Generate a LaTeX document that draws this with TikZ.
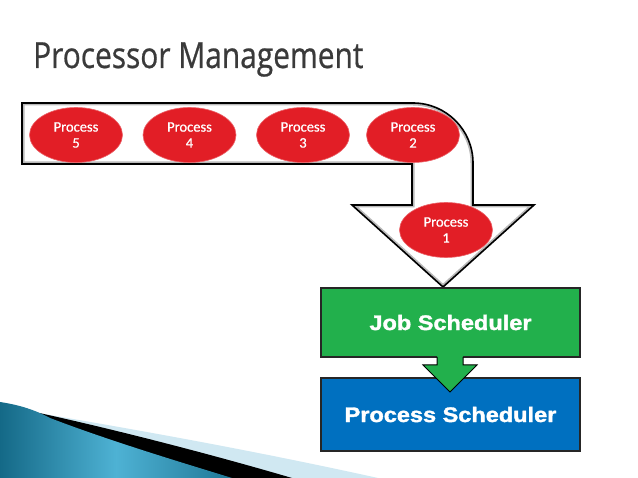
\documentclass[tikz,border=0pt]{standalone}
\usepackage{fontspec}
\usepackage{graphicx}
\setmainfont{Liberation Sans}
\newfontfamily\titlefont[FakeBold=0.7]{Open Sans}
\newfontfamily\procfont[FakeBold=0.7]{Carlito}
\newfontfamily\schedfont[BoldFeatures={FakeBold=1.6}]{Liberation Sans}
\usetikzlibrary{shapes.geometric}
\definecolor{procred}{RGB}{226,30,38}
\definecolor{jobgreen}{RGB}{34,176,76}
\definecolor{schedblue}{RGB}{0,112,192}
\definecolor{titlegray}{RGB}{58,58,58}
\definecolor{tealdark}{RGB}{20,105,135}
\definecolor{teallight}{RGB}{78,178,212}
\definecolor{swooshlight}{RGB}{208,232,242}
\def\mybentpath{(22,103) -- (413,103) arc[start angle=-90, end angle=0, radius=60] -- (473,205) -- (534,205) -- (443,287) -- (352,205) -- (412,205) -- (412,164) -- (22,164) -- cycle}
\begin{document}
\begin{tikzpicture}[x=1pt,y=-1pt,
  proc/.style={ellipse, fill=procred, draw=procred!70!white, line width=0.6pt, minimum width=93pt, minimum height=55pt, inner sep=0pt, text=white, align=center, font=\procfont\fontsize{14.5}{16}\selectfont},
  schedbox/.style={rectangle, draw=black!85, line width=1.6pt, minimum width=259pt, inner sep=0pt, text=white, font=\schedfont\bfseries\fontsize{21}{24}\selectfont},
  blockarrow/.style={draw=black, line width=1pt, line join=miter}
]
\useasboundingbox (0,0) rectangle (638,478);
\fill[white] (0,0) rectangle (638,478);
% bottom-left swoosh
\fill[swooshlight] (38,413) .. controls (150,432) and (260,452) .. (378,478) -- (0,478) -- cycle;
\fill[black] (30,411) .. controls (100,426) and (200,451) .. (292,478) -- (0,478) -- cycle;
\shade[left color=tealdark, right color=tealdark!80!teallight, middle color=teallight]
  (0,402) .. controls (20,405) and (35,410) .. (50,418) .. controls (110,441) and (180,462) .. (232,478) -- (0,478) -- cycle;
% title
\node[anchor=base west, text=titlegray, inner sep=0pt] (title) at (33,68)
  {\titlefont\fontsize{36}{36}\selectfont\scalebox{0.83}[1]{Processor Management}};
% bent arrow
\fill[white] \mybentpath;
\begin{scope}
  \clip \mybentpath;
  \draw[gray!55, line width=5pt] \mybentpath;
\end{scope}
\draw[black, line width=1.6pt, line join=miter] \mybentpath;
% processes
\node[proc] (p5) at (76,135) {Process\\5};
\node[proc] (p4) at (189.5,135) {Process\\4};
\node[proc] (p3) at (303,135) {Process\\3};
\node[proc] (p2) at (413,135) {Process\\2};
\node[proc] (p1) at (446,230) {Process\\1};
% schedulers
\node[schedbox, fill=schedblue, minimum height=73pt] (ps) at (450.5,414.5) {\scalebox{1.12}[1]{Process Scheduler}};
\node[schedbox, fill=jobgreen, minimum height=69pt] (js) at (450.5,322.5) {\scalebox{1.12}[1]{Job Scheduler}};
\fill[jobgreen] (437,355) -- (437,365) -- (423,365) -- (450,392) -- (477,365) -- (463,365) -- (463,355) -- cycle;
\draw[blockarrow] (437,357) -- (437,365) -- (423,365) -- (450,392) -- (477,365) -- (463,365) -- (463,357);
\end{tikzpicture}
\end{document}
